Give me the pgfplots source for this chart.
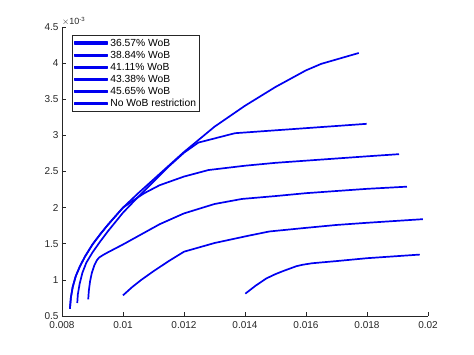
\documentclass[border=0pt]{standalone}
\usepackage{fontspec}
\setmainfont{Liberation Sans}
\usepackage{pgfplots}
\pgfplotsset{compat=1.18}
\definecolor{axgray}{RGB}{38,38,38}
\definecolor{lineblue}{RGB}{0,0,240}
\pgfplotsset{mycurve/.style={lineblue, line width=1.7pt, line join=round, solid, mark=none}}
\begin{document}
\begin{tikzpicture}
\path[use as bounding box] (-62pt,-39pt) rectangle (412pt,316pt);
\begin{axis}[
  scale only axis,
  width=366pt, height=289pt,
  at={(0,0)}, anchor=south west,
  xmin=0.008, xmax=0.02, ymin=0.5, ymax=4.5,
  axis x line*=bottom, axis y line*=left,
  axis line style={axgray, line width=0.5pt, -},
  tick align=inside, major tick length=4pt,
  tick style={axgray, line width=0.5pt},
  xtick={0.008,0.01,0.012,0.014,0.016,0.018,0.02},
  xticklabels={0.008,0.01,0.012,0.014,0.016,0.018,0.02},
  ytick={0.5,1,1.5,2,2.5,3,3.5,4,4.5},
  yticklabels={0.5,1,1.5,2,2.5,3,3.5,4,4.5},
  scaled x ticks=false,
  ticklabel style={font=\fontsize{10}{12}\selectfont, text=axgray},
  xticklabel style={yshift=-2pt},
  legend cell align=left,
  legend style={at={(0.027,0.972)}, anchor=north west, draw=axgray, line width=0.5pt,
    font=\fontsize{10.3}{12}\selectfont, inner sep=1.5pt, row sep=-0.6pt, fill=white},
  legend image code/.code={\fill[lineblue] (0pt,-0.9pt) rectangle (33pt,0.9pt);},
  clip=false,
]
% 36.57% WoB
\addplot[mycurve] coordinates {
(0.01401,0.809) (0.01435,0.92) (0.01470,1.02) (0.01500,1.08) (0.01530,1.13)
(0.01569,1.19) (0.01590,1.21) (0.01620,1.23)
(0.01700,1.26) (0.01800,1.30) (0.01973,1.35)};
\addlegendentry{36.57\% WoB}
% 38.84% WoB
\addplot[mycurve] coordinates {
(0.01000,0.786) (0.01030,0.90) (0.01060,1.00) (0.01100,1.12) (0.01150,1.26) (0.01200,1.39)
(0.01300,1.51) (0.01410,1.61) (0.01480,1.67) (0.01600,1.72) (0.01700,1.76)
(0.01800,1.79) (0.01983,1.84)};
\addlegendentry{38.84\% WoB}
% 41.11% WoB
\addplot[mycurve] coordinates {
(0.00886,0.73) (0.00888,0.85) (0.00892,0.98) (0.00898,1.10) (0.00906,1.20)
(0.00914,1.27) (0.00922,1.31) (0.00935,1.345)
(0.00950,1.38) (0.01000,1.49) (0.01060,1.63) (0.01120,1.77) (0.01200,1.92)
(0.01300,2.05) (0.01390,2.12) (0.01500,2.16) (0.01600,2.20) (0.01700,2.23)
(0.01800,2.26) (0.01931,2.29)};
\addlegendentry{41.11\% WoB}
% 43.38% WoB
\addplot[mycurve] coordinates {
(0.00826,0.60) (0.00829,0.75) (0.00835,0.90) (0.00845,1.05) (0.00858,1.18)
(0.00875,1.32) (0.00900,1.49) (0.00925,1.63) (0.00950,1.76) (0.00975,1.88)
(0.01000,2.00) (0.01034,2.10) (0.01070,2.20) (0.01120,2.31)
(0.01200,2.43) (0.01280,2.52) (0.01400,2.58) (0.01500,2.62) (0.01600,2.65)
(0.01700,2.68) (0.01800,2.71) (0.01905,2.74)};
\addlegendentry{43.38\% WoB}
% 45.65% WoB
\addplot[mycurve] coordinates {
(0.00850,0.68) (0.00852,0.80) (0.00858,0.95) (0.00867,1.10) (0.00880,1.24)
(0.00900,1.38) (0.00925,1.53) (0.00950,1.67) (0.00975,1.80)
(0.01000,1.93) (0.01050,2.15) (0.01100,2.36) (0.01150,2.57)
(0.01200,2.76) (0.01247,2.90) (0.01367,3.03) (0.01500,3.07) (0.01600,3.10)
(0.01700,3.13) (0.01799,3.16)};
\addlegendentry{45.65\% WoB}
% No WoB restriction
\addplot[mycurve] coordinates {
(0.00826,0.60) (0.00829,0.75) (0.00835,0.90) (0.00845,1.05) (0.00858,1.18)
(0.00875,1.32) (0.00900,1.49) (0.00925,1.63) (0.00950,1.76) (0.00975,1.88)
(0.01000,2.00) (0.01050,2.20) (0.01100,2.39) (0.01150,2.58)
(0.01200,2.77) (0.01300,3.12) (0.01400,3.41) (0.01500,3.67) (0.01600,3.90)
(0.01650,3.99) (0.01773,4.14)};
\addlegendentry{No WoB restriction}
\node[anchor=south west, inner sep=0pt, text=axgray, font=\fontsize{9}{10}\selectfont]
  at (rel axis cs:0,1) [yshift=1pt] {$\times$10\textsuperscript{-3}};
\end{axis}
\end{tikzpicture}
\end{document}
